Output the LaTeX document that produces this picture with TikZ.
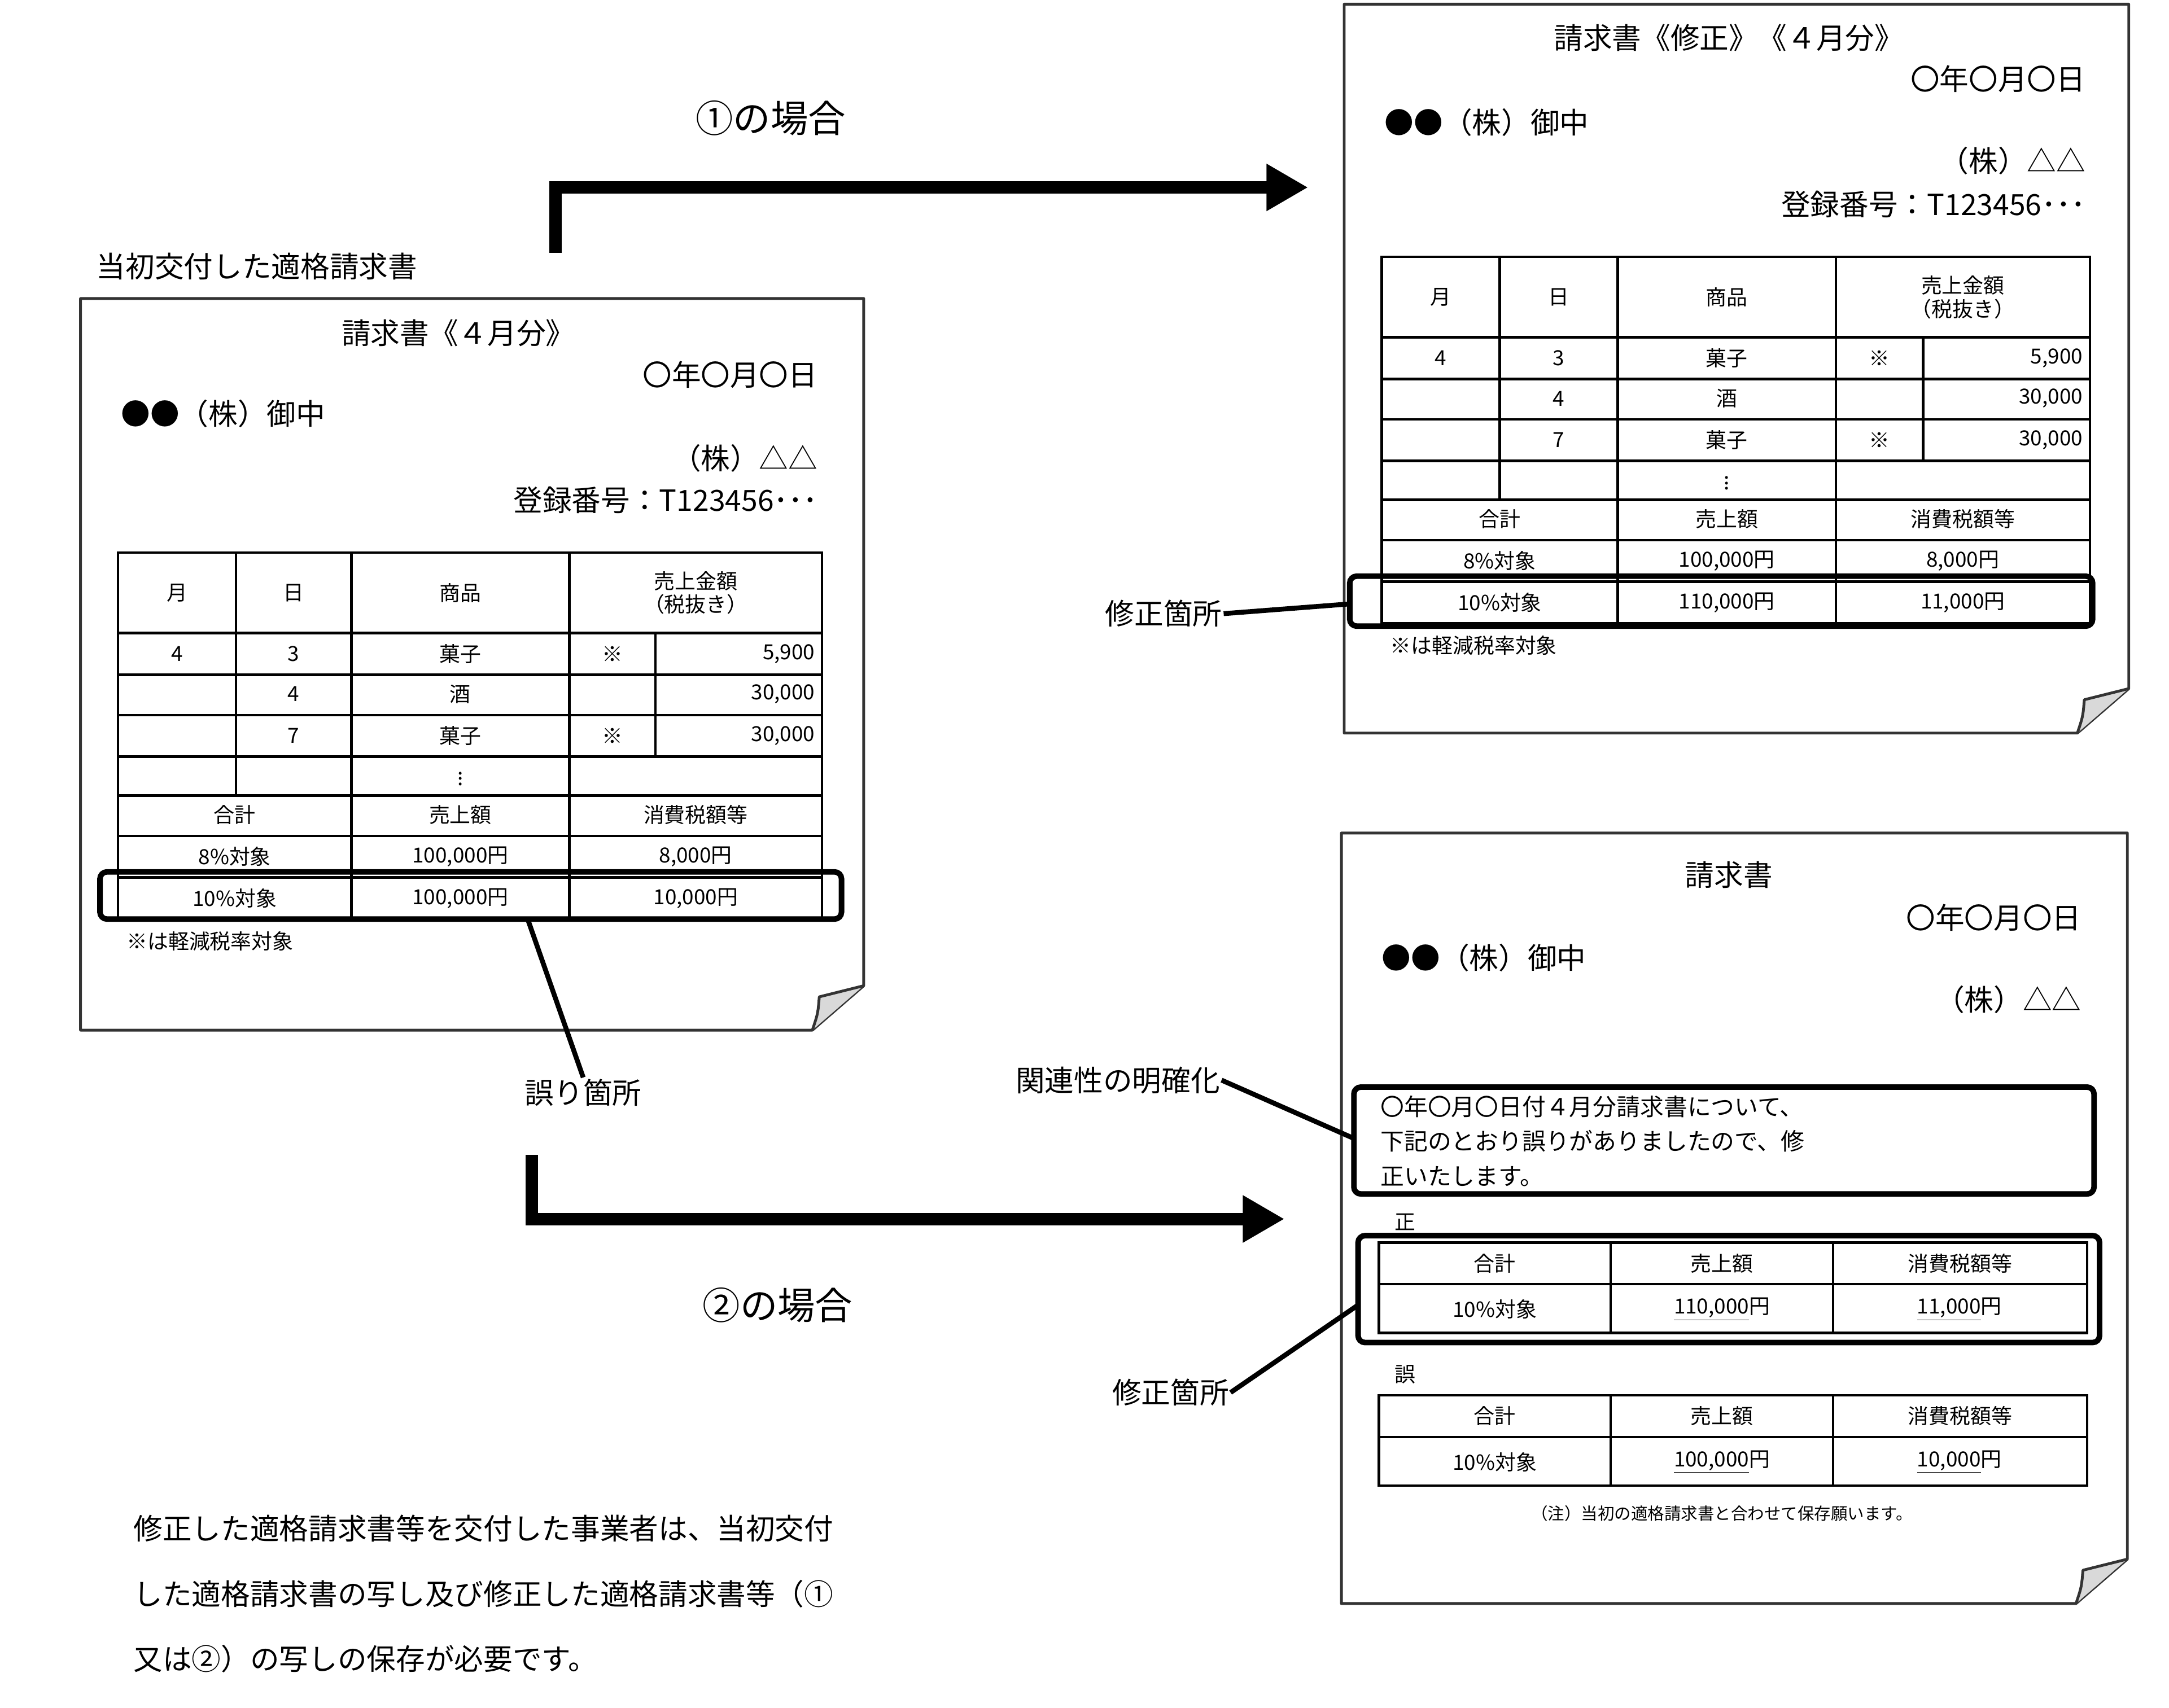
\documentclass[tikz,border=0pt]{standalone}
\usepackage{fontspec}
\setmainfont{Noto Sans CJK JP}
\usetikzlibrary{positioning, calc}
\usetikzlibrary{arrows.meta}

% sheet with a turned-down corner
\newcommand\sheet[5]{%
  \draw[page] (#1,#2) -- (#3,#2) -- (#3,#4-32) -- (#3-37,#4) -- (#1,#4) -- cycle;
  \draw[page, fill=black!15] (#3,#4-32) -- (#3-32,#4-24) .. controls (#3-33,#4-12) .. (#3-37,#4);
  \coordinate (#5) at (#1,#2);
}
% invoice table
\newcommand\invtable[9]{%
  \draw[tbl] (#1,#7) rectangle (#6,#7+264);
  \foreach \dy in {58,88,117,147,175,204,234}
    \draw[tbl] (#1,#7+\dy) -- (#6,#7+\dy);
  \draw[tbl] (#2,#7) -- (#2,#7+175);
  \draw[tbl] (#3,#7) -- (#3,#7+264);
  \draw[tbl] (#4,#7) -- (#4,#7+264);
  \draw[tbl] (#5,#7+58) -- (#5,#7+147);
  \node[cell] at ({(#1+#2)/2},#7+29) {月};
  \node[cell] at ({(#2+#3)/2},#7+29) {日};
  \node[cell] at ({(#3+#4)/2},#7+29) {商品};
  \node[cell, align=center] at ({(#4+#6)/2},#7+29) {売上金額\\（税抜き）};
  \node[cell] at ({(#1+#2)/2},#7+73) {4};
  \node[cell] at ({(#2+#3)/2},#7+73) {3};
  \node[cell] at ({(#3+#4)/2},#7+73) {菓子};
  \node[cell] at ({(#4+#5)/2},#7+73) {※};
  \node[cell, anchor=east] at (#6-4,#7+73) {5,900};
  \node[cell] at ({(#2+#3)/2},#7+102) {4};
  \node[cell] at ({(#3+#4)/2},#7+102) {酒};
  \node[cell, anchor=east] at (#6-4,#7+102) {30,000};
  \node[cell] at ({(#2+#3)/2},#7+132) {7};
  \node[cell] at ({(#3+#4)/2},#7+132) {菓子};
  \node[cell] at ({(#4+#5)/2},#7+132) {※};
  \node[cell, anchor=east] at (#6-4,#7+132) {30,000};
  \node[cell] at ({(#3+#4)/2},#7+160) {$\vdots$};
  \node[cell] at ({(#1+#3)/2},#7+189) {合計};
  \node[cell] at ({(#3+#4)/2},#7+189) {売上額};
  \node[cell] at ({(#4+#6)/2},#7+189) {消費税額等};
  \node[cell] at ({(#1+#3)/2},#7+219) {8\%対象};
  \node[cell] at ({(#3+#4)/2},#7+219) {100,000円};
  \node[cell] at ({(#4+#6)/2},#7+219) {8,000円};
  \node[cell] at ({(#1+#3)/2},#7+249) {10\%対象};
  \node[cell] at ({(#3+#4)/2},#7+249) {#8};
  \node[cell] at ({(#4+#6)/2},#7+249) {#9};
}
% small correction table
\newcommand\fixtable[6]{%
  \draw[tbl] (#1,#5) rectangle (#4,#5+65);
  \draw[tbl] (#1,#5+30) -- (#4,#5+30);
  \draw[tbl] (#2,#5) -- (#2,#5+65);
  \draw[tbl] (#3,#5) -- (#3,#5+65);
  \node[cell] at ({(#1+#2)/2},#5+15) {合計};
  \node[cell] at ({(#2+#3)/2},#5+15) {売上額};
  \node[cell] at ({(#3+#4)/2},#5+15) {消費税額等};
  \node[cell] at ({(#1+#2)/2},#5+48) {10\%対象};
  \node[cell] at ({(#2+#3)/2},#5+48) {\underline{#6}円};
}

\tikzset{
  page/.style={draw=black!80, line width=2pt, line join=round},
  tbl/.style={draw=black, line width=1.8pt},
  cell/.style={inner sep=1pt, font=\fontsize{15}{17}\selectfont},
  txt/.style={inner sep=1pt, font=\fontsize{21}{23}\selectfont},
  big/.style={inner sep=1pt, font=\fontsize{27}{29}\selectfont},
  markbox/.style={draw=black, line width=4pt, rounded corners=5pt},
  pointer/.style={draw=black, line width=3.5pt},
  flow/.style={draw=black, line width=9pt, -{Triangle[length=30pt,width=32pt]}}
}

\begin{document}
\begin{tikzpicture}[x=1pt, y=-1pt]
  \useasboundingbox (0,0) rectangle (1562,1230);

  % original invoice
  \node[txt] (orig-label) at (185,192) {当初交付した適格請求書};
  \sheet{58}{215}{622}{742}{orig}
  \node[txt] (orig-title) at (330,240) {請求書《４月分》};
  \node[txt, anchor=east] (orig-date) at (590,270) {〇年〇月〇日};
  \node[txt, anchor=west] (orig-to) at (86,298) {●●（株）御中};
  \node[txt, anchor=east] (orig-from) at (590,330) {（株）△△};
  \node[txt, anchor=east] (orig-reg) at (590,360) {登録番号：T123456･･･};
  \invtable{85}{170}{253}{410}{472}{592}{398}{100,000円}{10,000円}
  \draw[markbox] (72,628) rectangle (606,662);
  \node[cell, anchor=west] (orig-note) at (90,678) {※は軽減税率対象};
  \coordinate (err-end) at (380,662);
  \node[txt] (err-label) at (420,787) {誤り箇所};
  \draw[pointer] (err-end) -- (err-label.north);

  % case 1: revised invoice
  \node[big] (case1) at (555,85) {①の場合};
  \coordinate (c1-start) at (400,182);
  \coordinate (c1-end) at (942,135);
  \draw[flow] (c1-start) |- (c1-end);
  \sheet{968}{3}{1533}{528}{rev}
  \node[txt] (rev-title) at (1245,27) {請求書《修正》《４月分》};
  \node[txt, anchor=east] (rev-date) at (1503,57) {〇年〇月〇日};
  \node[txt, anchor=west] (rev-to) at (996,88) {●●（株）御中};
  \node[txt, anchor=east] (rev-from) at (1503,116) {（株）△△};
  \node[txt, anchor=east] (rev-reg) at (1503,147) {登録番号：T123456･･･};
  \invtable{995}{1080}{1165}{1322}{1385}{1505}{185}{110,000円}{11,000円}
  \draw[markbox] (972,415) rectangle (1507,451);
  \node[cell, anchor=west] (rev-note) at (1000,465) {※は軽減税率対象};
  \node[txt] (rev-fix) at (838,442) {修正箇所};
  \draw[pointer] (rev-fix.east) -- (972,435);

  % case 2: correction notice
  \node[big] (case2) at (560,940) {②の場合};
  \coordinate (c2-start) at (383,832);
  \coordinate (c2-end) at (925,878);
  \draw[flow] (c2-start) |- (c2-end);
  \sheet{966}{600}{1532}{1155}{corr}
  \node[txt] (corr-title) at (1245,630) {請求書};
  \node[txt, anchor=east] (corr-date) at (1500,661) {〇年〇月〇日};
  \node[txt, anchor=west] (corr-to) at (994,690) {●●（株）御中};
  \node[txt, anchor=east] (corr-from) at (1500,720) {（株）△△};
  \node[txt] (link-label) at (805,778) {関連性の明確化};
  \draw[markbox] (975,783) rectangle (1508,860);
  \node[cell, anchor=north west, align=left, font=\fontsize{17}{25}\selectfont]
    (corr-text) at (993,788) {〇年〇月〇日付４月分請求書について、\\下記のとおり誤りがありましたので、修\\正いたします。};
  \draw[pointer] (link-label.east) -- (975,820);
  \node[cell] (right-label) at (1012,880) {正};
  \fixtable{993}{1160}{1320}{1503}{895}{110,000}
  \node[cell] at (1411,943) {\underline{11,000}円};
  \draw[markbox] (978,890) rectangle (1512,967);
  \node[txt] (corr-fix) at (843,1003) {修正箇所};
  \draw[pointer] (corr-fix.east) -- (978,940);
  \node[cell] (wrong-label) at (1012,990) {誤};
  \fixtable{993}{1160}{1320}{1503}{1005}{100,000}
  \node[cell] at (1411,1053) {\underline{10,000}円};
  \node[cell, font=\fontsize{12}{14}\selectfont] (corr-note) at (1240,1090)
    {（注）当初の適格請求書と合わせて保存願います。};

  % summary
  \node[txt, anchor=north west, align=left, font=\fontsize{21}{47}\selectfont]
    (summary) at (95,1090) {修正した適格請求書等を交付した事業者は、当初交付\\した適格請求書の写し及び修正した適格請求書等（①\\又は②）の写しの保存が必要です。};
\end{tikzpicture}
\end{document}
